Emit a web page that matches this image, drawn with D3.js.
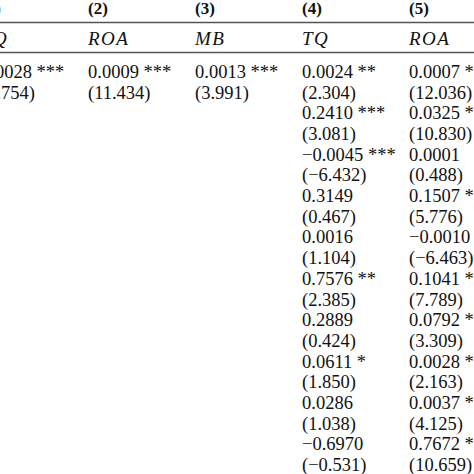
<!DOCTYPE html>
<html><head><meta charset="utf-8">
<script src="https://cdn.jsdelivr.net/npm/d3@7"></script>
<style>body{margin:0;background:#fff}svg{display:block}</style>
</head><body>
<script>
const colNumbers = ["(1)", "(2)", "(3)", "(4)", "(5)"];
const depVars = ["TQ", "ROA", "MB", "TQ", "ROA"];
const col1 = ["0.0028 ***", "(2.754)"];
const col2 = ["0.0009 ***", "(11.434)"];
const col3 = ["0.0013 ***", "(3.991)"];
const col4 = ["0.0024 **", "(2.304)", "0.2410 ***", "(3.081)", "\u22120.0045 ***", "(\u22126.432)",
  "0.3149", "(0.467)", "0.0016", "(1.104)", "0.7576 **", "(2.385)", "0.2889", "(0.424)",
  "0.0611 *", "(1.850)", "0.0286", "(1.038)", "\u22120.6970", "(\u22120.531)"];
const col5 = ["0.0007 ***", "(12.036)", "0.0325 ***", "(10.830)", "0.0001", "(0.488)",
  "0.1507 ***", "(5.776)", "\u22120.0010 ***", "(\u22126.463)", "0.1041 ***", "(7.789)", "0.0792 ***", "(3.309)",
  "0.0028 **", "(2.163)", "0.0037 ***", "(4.125)", "0.7672 ***", "(10.659)"];
const columns = [col1, col2, col3, col4, col5];

const W = 474, H = 474;
const svg = d3.select("body").append("svg").attr("width", W).attr("height", H);
const x = d3.scalePoint().domain(d3.range(5)).range([-19, 409]);
const y = d3.scaleLinear().domain([0, 19]).range([72, 465]);
const font = "'Liberation Serif', 'DejaVu Serif', serif";

svg.selectAll("text.num").data(colNumbers).join("text")
  .attr("x", (d, i) => x(i)).attr("y", 14)
  .attr("font-family", font).attr("font-weight", "bold").attr("font-size", 17)
  .attr("fill", "#111").text(d => d);

svg.selectAll("text.dv").data(depVars).join("text")
  .attr("x", (d, i) => x(i)).attr("y", 45)
  .attr("font-family", font).attr("font-style", "italic").attr("font-size", 19)
  .attr("letter-spacing", 1.5).attr("fill", "#111").text(d => d);

svg.append("line").attr("x1", 0).attr("x2", W).attr("y1", 22.5).attr("y2", 22.5)
  .attr("stroke", "#555").attr("stroke-width", 1.5);
svg.append("line").attr("x1", 0).attr("x2", W).attr("y1", 52.5).attr("y2", 52.5)
  .attr("stroke", "#555").attr("stroke-width", 1.5);

columns.forEach((col, ci) => {
  svg.append("g").selectAll("text").data(col).join("text")
    .attr("x", x(ci)).attr("y", (d, i) => y(i) + 6)
    .attr("font-family", font).attr("font-size", 18.5)
    .attr("fill", "#111").text(d => d);
});
</script>
</body></html>
